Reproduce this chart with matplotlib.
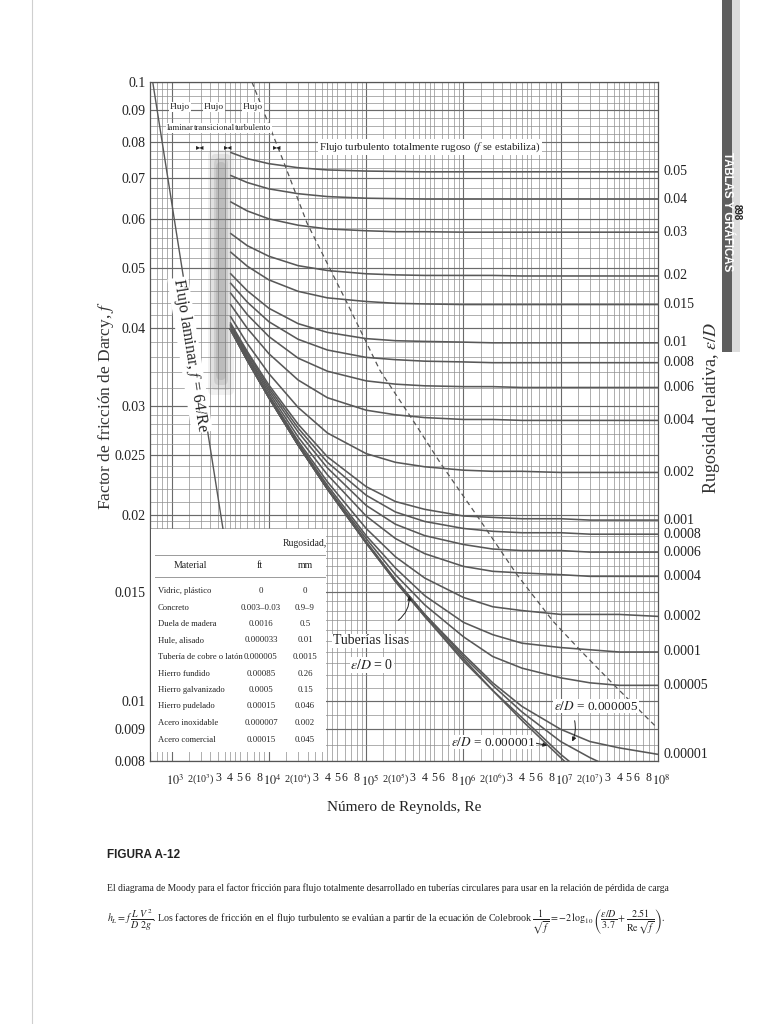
import numpy as np
import matplotlib
matplotlib.use("Agg")
import matplotlib.pyplot as plt
from matplotlib.patches import Rectangle, FancyBboxPatch

plt.rcParams['font.family'] = ['Liberation Serif', 'DejaVu Serif']
plt.rcParams['mathtext.fontset'] = 'stix'

# ---------------- data ----------------
re_grid = [4e3, 6e3, 1e4, 2e4, 4e4, 1e5, 2e5, 4e5, 1e6, 2e6, 4e6, 1e7, 2e7, 4e7, 1e8]

f_0_05     = [0.0770, 0.0752, 0.0738, 0.0727, 0.0721, 0.0718, 0.0717, 0.0716, 0.0716, 0.0716, 0.0716, 0.0716, 0.0716, 0.0716, 0.0716]
f_0_04     = [0.0707, 0.0688, 0.0672, 0.0660, 0.0653, 0.0649, 0.0648, 0.0647, 0.0647, 0.0647, 0.0647, 0.0647, 0.0647, 0.0647, 0.0647]
f_0_03     = [0.0641, 0.0619, 0.0601, 0.0587, 0.0579, 0.0575, 0.0573, 0.0573, 0.0572, 0.0572, 0.0572, 0.0572, 0.0572, 0.0572, 0.0572]
f_0_02     = [0.0570, 0.0544, 0.0523, 0.0505, 0.0496, 0.0490, 0.0488, 0.0487, 0.0487, 0.0487, 0.0486, 0.0486, 0.0486, 0.0486, 0.0486]
f_0_015    = [0.0532, 0.0504, 0.0479, 0.0459, 0.0448, 0.0442, 0.0439, 0.0438, 0.0437, 0.0437, 0.0437, 0.0437, 0.0437, 0.0437, 0.0437]
f_0_01     = [0.0491, 0.0460, 0.0431, 0.0407, 0.0394, 0.0385, 0.0382, 0.0381, 0.0380, 0.0379, 0.0379, 0.0379, 0.0379, 0.0379, 0.0379]
f_0_008    = [0.0474, 0.0441, 0.0410, 0.0384, 0.0369, 0.0359, 0.0356, 0.0354, 0.0353, 0.0352, 0.0352, 0.0352, 0.0352, 0.0352, 0.0352]
f_0_006    = [0.0457, 0.0421, 0.0388, 0.0358, 0.0341, 0.0329, 0.0325, 0.0323, 0.0322, 0.0322, 0.0321, 0.0321, 0.0321, 0.0321, 0.0321]
f_0_004    = [0.0438, 0.0400, 0.0364, 0.0330, 0.0309, 0.0295, 0.0290, 0.0287, 0.0285, 0.0285, 0.0284, 0.0284, 0.0284, 0.0284, 0.0284]
f_0_002    = [0.0419, 0.0378, 0.0338, 0.0298, 0.0271, 0.0251, 0.0243, 0.0239, 0.0236, 0.0235, 0.0235, 0.0234, 0.0234, 0.0234, 0.0234]
f_0_001    = [0.0409, 0.0367, 0.0324, 0.0280, 0.0248, 0.0222, 0.0210, 0.0204, 0.0199, 0.0198, 0.0197, 0.0197, 0.0196, 0.0196, 0.0196]
f_0_0008   = [0.0407, 0.0365, 0.0321, 0.0276, 0.0243, 0.0215, 0.0202, 0.0195, 0.0190, 0.0188, 0.0187, 0.0187, 0.0186, 0.0186, 0.0186]
f_0_0006   = [0.0405, 0.0362, 0.0318, 0.0272, 0.0238, 0.0207, 0.0193, 0.0185, 0.0179, 0.0176, 0.0175, 0.0175, 0.0174, 0.0174, 0.0174]
f_0_0004   = [0.0403, 0.0360, 0.0315, 0.0267, 0.0232, 0.0199, 0.0183, 0.0173, 0.0165, 0.0162, 0.0161, 0.0160, 0.0159, 0.0159, 0.0159]
f_0_0002   = [0.0401, 0.0357, 0.0312, 0.0263, 0.0226, 0.0190, 0.0171, 0.0158, 0.0147, 0.0142, 0.0140, 0.0138, 0.0138, 0.0138, 0.0137]
f_0_0001   = [0.0400, 0.0356, 0.0310, 0.0261, 0.0223, 0.0185, 0.0164, 0.0148, 0.0134, 0.0128, 0.0124, 0.0122, 0.0121, 0.0120, 0.0120]
f_0_00005  = [0.0400, 0.0356, 0.0310, 0.0260, 0.0221, 0.0183, 0.0160, 0.0143, 0.0127, 0.0118, 0.0113, 0.0109, 0.0107, 0.0106, 0.0106]
f_0_00001  = [0.0399, 0.0355, 0.0309, 0.0259, 0.0220, 0.0181, 0.0157, 0.0138, 0.0119, 0.0107, 0.0098, 0.0090, 0.0086, 0.0084, 0.0082]
f_0_000005 = [0.0399, 0.0355, 0.0309, 0.0259, 0.0220, 0.0180, 0.0157, 0.0138, 0.0118, 0.0106, 0.0096, 0.0086, 0.0081, 0.0077, 0.0075]
f_0_000001 = [0.0399, 0.0355, 0.0309, 0.0259, 0.0220, 0.0180, 0.0156, 0.0137, 0.0117, 0.0104, 0.0094, 0.0082, 0.0075, 0.0070, 0.0064]
f_smooth   = [0.0399, 0.0355, 0.0309, 0.0259, 0.0220, 0.0180, 0.0156, 0.0137, 0.0116, 0.0104, 0.0093, 0.0081, 0.0073, 0.0067, 0.0059]

labeled_curves = [
    ('0.05', f_0_05), ('0.04', f_0_04), ('0.03', f_0_03), ('0.02', f_0_02),
    ('0.015', f_0_015), ('0.01', f_0_01), ('0.008', f_0_008), ('0.006', f_0_006),
    ('0.004', f_0_004), ('0.002', f_0_002), ('0.001', f_0_001), ('0.0008', f_0_0008),
    ('0.0006', f_0_0006), ('0.0004', f_0_0004), ('0.0002', f_0_0002),
    ('0.0001', f_0_0001), ('0.00005', f_0_00005), ('0.00001', f_0_00001),
]
unlabeled_curves = [f_0_000005, f_0_000001, f_smooth]

laminar_re = [640, 3370]
laminar_f = [0.1, 0.019]

dash_re = [6700, 13960, 24650, 63500, 1.387e5, 3.03e5, 5.73e5, 1.48e6, 3.55e6, 8.32e6, 1.57e7, 3.78e7, 9.8e7]
dash_f = [0.1, 0.0748, 0.0592, 0.0440, 0.0342, 0.0284, 0.0243, 0.0196, 0.0160, 0.01346, 0.0121, 0.0105, 0.00905]

y_ticks = [0.1, 0.09, 0.08, 0.07, 0.06, 0.05, 0.04, 0.03, 0.025, 0.02, 0.015, 0.01, 0.009, 0.008]
y_ticklabels = ['0.1', '0.09', '0.08', '0.07', '0.06', '0.05', '0.04', '0.03', '0.025', '0.02',
                '0.015', '0.01', '0.009', '0.008']

decade_ticks = [1e3, 1e4, 1e5, 1e6, 1e7, 1e8]
decade_labels = [r'$10^{3}$', r'$10^{4}$', r'$10^{5}$', r'$10^{6}$', r'$10^{7}$', r'$10^{8}$']
x_ticks = []
x_ticklabels = []
for n in range(3, 8):
    for m, lab in [(2, r'2(10$^{%d}$)' % n), (3, '3'), (4, '4'), (5, '5'), (6, '6'), (8, '8')]:
        x_ticks.append(m * 10 ** n)
        x_ticklabels.append(lab)

materials = ['Vidric, plástico', 'Concreto', 'Duela de madera', 'Hule, alisado',
             'Tubería de cobre o latón', 'Hierro fundido', 'Hierro galvanizado',
             'Hierro pudelado', 'Acero inoxidable', 'Acero comercial']
rough_ft = ['0', '0.003–0.03', '0.0016', '0.000033', '0.000005', '0.00085', '0.0005',
            '0.00015', '0.000007', '0.00015']
rough_mm = ['0', '0.9–9', '0.5', '0.01', '0.0015', '0.26', '0.15', '0.046', '0.002', '0.045']

# ---------------- figure ----------------
W, H = 768, 1024
fig = plt.figure(figsize=(W / 100, H / 100), dpi=100)
fig.patch.set_facecolor('white')
TXT = '#222222'


def P(x, y):
    """pixel position -> figure fraction"""
    return x / W, 1 - y / H


ax_l, ax_r, ax_t, ax_b = 150, 658, 82, 761
ax = fig.add_axes([ax_l / W, 1 - ax_b / H, (ax_r - ax_l) / W, (ax_b - ax_t) / H])
ax.set_xscale('log')
ax.set_yscale('log')
ax.set_xlim(600, 1e8)
ax.set_ylim(0.008, 0.1)
ax.set_facecolor('white')

GRID = '#8e8e8e'
CURVE = '#585858'

# vertical grid
mults = [1, 1.5, 2, 2.5, 3, 3.5, 4, 4.5, 5, 6, 7, 8, 9]
for n in range(2, 8):
    for m in mults:
        v = m * 10 ** n
        if 600 < v < 1e8:
            ax.axvline(v, color=GRID if m != 1 else '#6a6a6a', lw=0.5 if m != 1 else 0.8, zorder=1)

# horizontal grid
hvals = list(np.arange(0.0085, 0.0100, 0.0005)) + list(np.arange(0.0105, 0.0200, 0.0005)) + \
    list(np.arange(0.021, 0.030, 0.001)) + list(np.arange(0.032, 0.060, 0.002)) + \
    list(np.arange(0.0625, 0.1, 0.0025))
for v in hvals:
    ax.axhline(v, color=GRID, lw=0.5, zorder=1)
for v in y_ticks:
    ax.axhline(v, color='#6a6a6a', lw=0.85, zorder=1)

# laminar line
ax.plot(laminar_re, laminar_f, color=CURVE, lw=1.0, zorder=2)
# dashed boundary
ax.plot(dash_re, dash_f, color='#555555', lw=0.9, ls=(0, (4, 3)), zorder=2)

# curves
for lab, fv in labeled_curves:
    ax.plot(re_grid, fv, color=CURVE, lw=1.15, zorder=2, solid_capstyle='butt')
    ax.annotate(lab, xy=(1e8, fv[-1]), xytext=(4, 0), textcoords='offset points',
                va='center', ha='left', fontsize=10, color=TXT, annotation_clip=False)
for fv in unlabeled_curves:
    ax.plot(re_grid, fv, color=CURVE, lw=1.15, zorder=2)

# ticks
ax.set_yticks(y_ticks)
ax.set_yticklabels(y_ticklabels, fontsize=10, color=TXT)
ax.yaxis.set_minor_locator(matplotlib.ticker.NullLocator())
ax.set_xticks(x_ticks)
ax.set_xticklabels(x_ticklabels, fontsize=8.5, color=TXT)
for t, lab in zip(ax.get_xticklabels(), x_ticklabels):
    if lab.startswith('2('):
        t.set_fontsize(7.3)
ax.xaxis.set_minor_locator(matplotlib.ticker.NullLocator())
ax.tick_params(axis='both', length=0, pad=3)
ax.tick_params(axis='x', pad=8)
for s in ax.spines.values():
    s.set_color('#555555')
    s.set_linewidth(0.9)
# decade labels, drawn slightly right/below like the original
for xv, lab in zip(decade_ticks, decade_labels):
    ax.annotate(lab, xy=(xv, 0), xycoords=('data', 'axes fraction'), xytext=(2.5, -14),
                textcoords='offset points', ha='center', va='center', fontsize=8.8, color=TXT,
                annotation_clip=False)

ax.set_xlabel('Número de Reynolds, Re', fontsize=11, labelpad=10, color=TXT)

# axis titles
fig.text(*P(106, 405), 'Factor de fricción de Darcy, $f$', rotation=90, ha='center', va='center',
         fontsize=12.5, color='#333333')
fig.text(*P(712, 408), r'Rugosidad relativa, $\varepsilon/D$', rotation=90, ha='center', va='center',
         fontsize=13, color='#333333')

# ---------- top annotations ----------
wbox = dict(facecolor='white', edgecolor='none', pad=0.6)
for x, lab in [(180, 'laminar'), (214, 'transicional'), (253, 'turbulento')]:
    fig.text(*P(x, 107), 'Flujo', ha='center', va='center', fontsize=6.8, color=TXT, bbox=wbox, zorder=5)
    fig.text(*P(x, 128), lab, ha='center', va='center', fontsize=6.3, color=TXT, bbox=wbox, zorder=5)
for x in [200, 228, 277]:
    fig.text(*P(x, 147), '▸◂', ha='center', va='center', fontsize=6, color=TXT,
             family=['DejaVu Sans'], zorder=5)
fig.text(*P(430, 147), 'Flujo turbulento totalmente rugoso ($f$ se estabiliza)', ha='center', va='center',
         fontsize=7.8, color=TXT, bbox=dict(facecolor='white', edgecolor='none', pad=1.0), zorder=5)

fig.text(*P(190, 355), 'Flujo laminar, $f$ = 64/Re', rotation=-80.9, ha='center', va='center',
         rotation_mode='anchor', fontsize=11.5, color=TXT,
         bbox=dict(facecolor='white', edgecolor='none', pad=0.3), zorder=5)

# smooth pipes label
fig.text(*P(371, 641), 'Tuberías lisas', ha='center', va='center', fontsize=10, color=TXT, zorder=5,
         bbox=dict(facecolor='white', edgecolor='none', pad=0.5))
fig.text(*P(372, 665), r'$\varepsilon/D$ = 0', ha='center', va='center', fontsize=10, color=TXT, zorder=5,
         bbox=dict(facecolor='white', edgecolor='none', pad=0.5))
fig.add_artist(matplotlib.patches.FancyArrowPatch(P(396, 622), P(409, 593), transform=fig.transFigure,
               connectionstyle='arc3,rad=0.3', arrowstyle='-|>', mutation_scale=6, lw=0.7, color=TXT))

fig.text(*P(596, 706), r'$\varepsilon/D$ = 0.000005', ha='center', va='center', fontsize=9.5,
         color=TXT, zorder=5, bbox=dict(facecolor='white', edgecolor='none', pad=0.5))
fig.add_artist(matplotlib.patches.FancyArrowPatch(P(574, 718), P(571, 744), transform=fig.transFigure,
               connectionstyle='arc3,rad=-0.2', arrowstyle='-|>', mutation_scale=6, lw=0.7, color=TXT))
fig.text(*P(493, 742), r'$\varepsilon/D$ = 0.000001', ha='center', va='center', fontsize=9.5,
         color=TXT, zorder=5, bbox=dict(facecolor='white', edgecolor='none', pad=0.5))
fig.add_artist(matplotlib.patches.FancyArrowPatch(P(530, 742), P(550, 746), transform=fig.transFigure,
               arrowstyle='-|>', mutation_scale=6, lw=0.7, color=TXT))

# ---------- material table ----------
tx0, tx1, ty0, ty1 = 151, 326, 529, 752
fig.add_artist(Rectangle(P(tx0, ty1), (tx1 - tx0) / W, (ty1 - ty0) / H, transform=fig.transFigure,
                         facecolor='white', edgecolor='none', zorder=4))
fig.text(*P(305, 543), 'Rugosidad,', ha='center', va='center', fontsize=7, color=TXT, zorder=6)
for yy in [555, 577]:
    fig.add_artist(matplotlib.lines.Line2D([155 / W, 325 / W], [1 - yy / H, 1 - yy / H],
                   transform=fig.transFigure, color='#9a9a9a', lw=0.7, zorder=6))
fig.text(*P(190, 566), 'Material', ha='center', va='center', fontsize=7, color=TXT, zorder=6)
fig.text(*P(260, 566), 'ft', ha='center', va='center', fontsize=7, color=TXT, zorder=6)
fig.text(*P(305, 566), 'mm', ha='center', va='center', fontsize=7, color=TXT, zorder=6)
for i, (mat, ft, mm) in enumerate(zip(materials, rough_ft, rough_mm)):
    yy = 591 + i * 16.5
    fig.text(*P(158, yy), mat, ha='left', va='center', fontsize=6.2, color=TXT, zorder=6)
    fig.text(*P(261, yy), ft, ha='center', va='center', fontsize=6.3, color=TXT, zorder=6)
    fig.text(*P(305, yy), mm, ha='center', va='center', fontsize=6.3, color=TXT, zorder=6)

# ---------- scan smudge ----------
for (x0, x1, y0, y1, a) in [(208, 234, 150, 395, 0.10), (211, 231, 154, 390, 0.14),
                            (214, 228, 158, 385, 0.18), (216, 226, 162, 380, 0.2)]:
    bl = P(x0, y1)
    fig.add_artist(FancyBboxPatch(bl, (x1 - x0) / W, (y1 - y0) / H, boxstyle='round,pad=0,rounding_size=0.006',
                                  transform=fig.transFigure, facecolor='#7a7a7a', edgecolor='none',
                                  alpha=a, zorder=7))

# ---------- page decorations ----------
fig.add_artist(matplotlib.lines.Line2D([32 / W, 32 / W], [0, 1], transform=fig.transFigure,
                                       color='#cfcfcf', lw=0.8))
fig.add_artist(Rectangle(P(722, 352), 10 / W, 352 / H, transform=fig.transFigure,
                         facecolor='#5e5e5e', edgecolor='none'))
fig.add_artist(Rectangle(P(732, 352), 8 / W, 352 / H, transform=fig.transFigure,
                         facecolor='#dcdcdc', edgecolor='none'))
fig.text(*P(727, 212), 'TABLAS Y GRÁFICAS', rotation=-90, ha='center', va='center', fontsize=8.3,
         color='white', fontweight='bold', family=['Liberation Sans', 'DejaVu Sans'])
fig.text(*P(736.5, 212), '898', rotation=-90, ha='center', va='center', fontsize=7,
         color=TXT, fontweight='bold', family=['Liberation Sans', 'DejaVu Sans'])

# ---------- caption ----------
fig.text(*P(107, 855), 'FIGURA A-12', ha='left', va='center', fontsize=8.5, fontweight='bold',
         color=TXT, family=['Liberation Sans', 'DejaVu Sans'])
fig.text(*P(107, 888), 'El diagrama de Moody para el factor fricción para flujo totalmente desarrollado en '
         'tuberías circulares para usar en la relación de pérdida de carga', ha='left', va='center',
         fontsize=6.95, color=TXT)
fig.text(*P(107, 922), r'$h_L = f\,\dfrac{L}{D}\,\dfrac{V^2}{2g}$. Los factores de fricción en el flujo turbulento '
         r'se evalúan a partir de la ecuación de Colebrook $\dfrac{1}{\sqrt{f}} = -2\,\log_{10}'
         r'\left(\dfrac{\varepsilon/D}{3.7} + \dfrac{2.51}{\mathrm{Re}\,\sqrt{f}}\right)$.',
         ha='left', va='center', fontsize=7.2, color=TXT)

fig.savefig('out.png', dpi=100, facecolor='white')
